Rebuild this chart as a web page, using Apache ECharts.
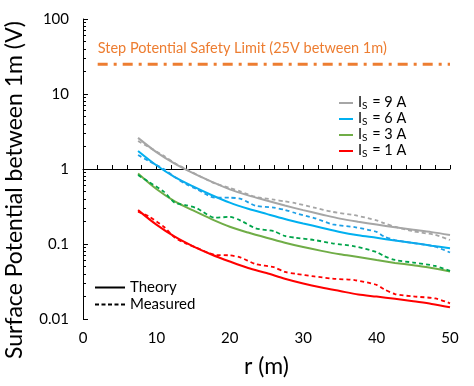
<!DOCTYPE html>
<html><head><meta charset="utf-8">
<script src="https://cdn.jsdelivr.net/npm/echarts@6/dist/echarts.min.js"></script>
<style>html,body{margin:0;padding:0;background:#fff}#c{width:474px;height:386px}</style>
</head><body><div id="c"></div>
<script>
// ---- data ----
const rTheory = [7.5,10,12.5,15,17.5,20,22.5,25,27.5,30,32.5,35,37.5,40,42.5,45,47.5,50];
const theory9 = [2.6,1.68,1.18,0.88,0.68,0.536,0.445,0.38,0.326,0.283,0.248,0.218,0.198,0.182,0.167,0.155,0.144,0.132];
const theory6 = [1.74,1.12,0.78,0.585,0.45,0.356,0.295,0.252,0.216,0.188,0.165,0.145,0.131,0.121,0.111,0.103,0.095,0.088];
const theory3 = [0.87,0.54,0.37,0.28,0.215,0.17,0.142,0.121,0.104,0.091,0.081,0.073,0.067,0.061,0.056,0.052,0.048,0.043];
const theory1 = [0.283,0.181,0.125,0.093,0.0725,0.0584,0.0478,0.041,0.0345,0.0298,0.0263,0.0236,0.0212,0.0199,0.0186,0.0172,0.0159,0.0143];

const rMeas = [7.5,9,11,12.5,14,15.5,18,20,21.5,23.5,26,27.5,29,31.5,34,37,40,41,42.5,45,48,50];
const meas9 = [2.36,1.95,1.5,1.2,1.0,0.84,0.64,0.56,0.50,0.425,0.39,0.37,0.349,0.305,0.268,0.242,0.207,0.19,0.170,0.148,0.132,0.113];
const meas6 = [1.54,1.27,1.0,0.78,0.63,0.54,0.414,0.414,0.40,0.324,0.305,0.285,0.257,0.222,0.183,0.168,0.145,0.126,0.113,0.103,0.092,0.077];
const meas3 = [0.83,0.67,0.5,0.355,0.33,0.30,0.224,0.23,0.205,0.162,0.148,0.128,0.121,0.113,0.102,0.093,0.078,0.069,0.0612,0.0566,0.0509,0.0437];
const meas1 = [0.27,0.232,0.17,0.122,0.102,0.089,0.0715,0.0705,0.066,0.054,0.049,0.0425,0.040,0.037,0.0345,0.033,0.0285,0.025,0.0215,0.020,0.0188,0.0162];

const safetyR = [2, 50];
const safetyV = [25, 25];

const currentNames = ['I_S = 9 A','I_S = 6 A','I_S = 3 A','I_S = 1 A'];
const styleNames = ['Theory','Measured'];
const xTicks = [0,10,20,30,40,50];
const yTicks = [0.01,0.1,1,10,100];
const safetyText = 'Step Potential Safety Limit (25V between 1m)';
const yTitle = 'Surface Potential between 1m (V)';
const xTitle = 'r (m)';

// ---- build chart ----
const FONT = 'Lato';
const colors = {
  t: ['#A6A6A6','#00B0F0','#70AD47','#FF0000'],
  m: ['#A6A6A6','#1E9FE6','#00A44A','#FF0000']
};
const zip = (a,b) => a.map((v,i)=>[v,b[i]]);
const theories = [theory9, theory6, theory3, theory1];
const measures = [meas9, meas6, meas3, meas1];

const minorTicks = [];
for (let e = Math.log10(yTicks[0]); e < Math.log10(yTicks[yTicks.length-1]); e++)
  for (let k = 2; k < 10; k++) minorTicks.push(e + Math.log10(k));

const series = [];
theories.forEach((d,i)=>series.push({
  name: currentNames[i], type:'line', data: zip(rTheory,d), symbol:'none', smooth:0.3,
  color: colors.t[i], lineStyle:{width:2, color: colors.t[i]}, z:3
}));
measures.forEach((d,i)=>series.push({
  name: 'm'+i, type:'line', data: zip(rMeas,d), symbol:'none', smooth:0.25,
  color: colors.m[i], lineStyle:{width:1.8, color: colors.m[i], type:[4,3]}, z:4
}));
series.push({name:'Theory', type:'line', data:[], symbol:'none', color:'#000', lineStyle:{width:1.5,color:'#000',type:'solid'}});
series.push({name:'Measured', type:'line', data:[], symbol:'none', color:'#000', lineStyle:{width:1.5,color:'#000',type:[4,2.5]}});
series.push({name:'safety', type:'line', data: zip(safetyR,safetyV), symbol:'none', color:'#ED7D31',
  lineStyle:{width:3, color:'#ED7D31', type:[10,6,3,6]}, z:2});

const legendText = {
  color:'#000', fontFamily: FONT, fontSize:14,
  rich:{
    a:{fontFamily:FONT, fontSize:14.5, color:'#000', lineHeight:16, verticalAlign:'top'},
    s:{fontFamily:FONT, fontSize:10, color:'#000', lineHeight:6, verticalAlign:'bottom', padding:[0,1,0,0]}
  }
};

const chart = echarts.init(document.getElementById('c'));
chart.setOption({
  animation:false,
  backgroundColor:'#fff',
  textStyle:{fontFamily:FONT},
  grid:{left:83, right:24, top:19, bottom:67, containLabel:false},
  legend:[
    {data: currentNames, orient:'vertical', left:333, top:90, itemWidth:14, itemHeight:14, itemGap:0,
     itemStyle:{opacity:0}, textStyle: legendText,
     formatter: n => '{a|I}{s|S}{a|' + n.slice(3) + '}'},
    {data: styleNames, orient:'vertical', left:89, top:275, itemWidth:30, itemHeight:14, itemGap:2,
     itemStyle:{opacity:0}, textStyle:{color:'#000', fontFamily:FONT, fontSize:15}}
  ],
  xAxis:{type:'value', min:xTicks[0], max:xTicks[xTicks.length-1], interval:10,
    axisLine:{show:true, lineStyle:{color:'#000', width:1}},
    axisTick:{show:true, inside:true, length:4, lineStyle:{color:'#000'}},
    minorTick:{show:true, splitNumber:5, length:4, lineStyle:{color:'#000'}},
    splitLine:{show:false}, minorSplitLine:{show:false},
    axisLabel:{color:'#000', fontSize:15, margin:12, fontFamily:FONT},
    name:xTitle, nameLocation:'middle', nameGap:36,
    nameTextStyle:{color:'#000', fontSize:23, fontFamily:FONT}
  },
  yAxis:[
    {type:'log', logBase:10, min:yTicks[0], max:yTicks[yTicks.length-1], position:'left', offset:0,
     axisLine:{show:true, lineStyle:{color:'#000', width:1}},
     axisTick:{show:true, inside:true, length:5, lineStyle:{color:'#000'}},
     splitLine:{show:false},
     axisLabel:{color:'#000', fontSize:15, margin:14, fontFamily:FONT}
    },
    {type:'value', min:-2, max:2, position:'left', offset:0,
     axisLine:{show:false}, splitLine:{show:false}, axisLabel:{show:false},
     axisTick:{show:true, inside:true, length:3, lineStyle:{color:'#000'}, customValues:minorTicks}
    }
  ],
  series
});

const p = chart.convertToPixel({xAxisIndex:0, yAxisIndex:0}, [safetyR[0], safetyV[0]]);
chart.setOption({graphic:[
  {type:'text', left: p[0], top: p[1]-23, silent:true,
   style:{text:safetyText, fill:'#ED7D31', font:'14.5px ' + FONT}},
  {type:'text', x:15, y:190, rotation:Math.PI/2, silent:true,
   style:{text:yTitle, fill:'#000', font:'23px ' + FONT, align:'center', verticalAlign:'middle'}}
]});
</script></body></html>
